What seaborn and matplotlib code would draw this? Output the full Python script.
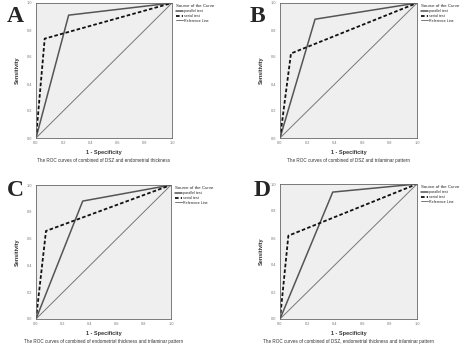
import matplotlib
matplotlib.use("Agg")
import matplotlib.pyplot as plt
import seaborn as sns
import pandas as pd

sns.set_style("white")
plt.rcParams['font.family'] = ['Liberation Sans', 'DejaVu Sans']

panel_letters = ["A", "B", "C", "D"]
captions = [
    "The ROC curves of combined of DSZ and endometrial thickness",
    "The ROC curves of combined of DSZ and trilaminar pattern",
    "The ROC curves of combined of endometrial thickness and trilaminar pattern",
    "The ROC curves of combined of DSZ, endometrial thickness and trilaminar pattern",
]
# parallel test: (fpr, tpr) points
parallel_x = [[0.0, 0.24, 1.0], [0.0, 0.256, 1.0], [0.0, 0.346, 1.0], [0.0, 0.385, 1.0]]
parallel_y = [[0.0, 0.91, 1.0], [0.0, 0.88, 1.0], [0.0, 0.88, 1.0], [0.0, 0.94, 1.0]]
# serial test
serial_x = [[0.0, 0.064, 1.0], [0.0, 0.08, 1.0], [0.0, 0.074, 1.0], [0.0, 0.061, 1.0]]
serial_y = [[0.0, 0.736, 1.0], [0.0, 0.626, 1.0], [0.0, 0.657, 1.0], [0.0, 0.617, 1.0]]
ref_x = [0.0, 1.0]
ref_y = [0.0, 1.0]
ticks = [0.0, 0.2, 0.4, 0.6, 0.8, 1.0]
legend_labels = ["parallel test", "serial test", "Reference Line"]

fig = plt.figure(figsize=(4.74, 3.48), dpi=100)
W, H = 474, 348
# axes boxes in pixels: (left, top, right, bottom)
boxes = [(36, 3, 172, 138), (280, 3, 417, 138), (36, 185, 171, 319), (280, 184, 417, 319)]
letter_pos = [(15, 17), (257, 17), (15, 190), (262, 190)]

for i in range(4):
    l, t, r, b = boxes[i]
    ax = fig.add_axes([l / W, (H - b) / H, (r - l) / W, (b - t) / H])
    ax.set_facecolor("#efefef")
    dfp = pd.DataFrame({"x": parallel_x[i], "y": parallel_y[i]})
    dfs = pd.DataFrame({"x": serial_x[i], "y": serial_y[i]})
    dfr = pd.DataFrame({"x": ref_x, "y": ref_y})
    sns.lineplot(data=dfp, x="x", y="y", ax=ax, color="#555555", lw=1.1, sort=False,
                 estimator=None, label=legend_labels[0])
    sns.lineplot(data=dfs, x="x", y="y", ax=ax, color="#111111", lw=1.3, sort=False,
                 estimator=None, label=legend_labels[1], dashes=False)
    ax.lines[-1].set_dashes([2.0, 1.2])
    sns.lineplot(data=dfr, x="x", y="y", ax=ax, color="#777777", lw=0.7, sort=False,
                 estimator=None, label=legend_labels[2])
    ax.set_xlim(0, 1)
    ax.set_ylim(0, 1)
    ax.set_xticks(ticks)
    ax.set_yticks(ticks)
    ax.set_xticklabels([f"{v:.1f}" for v in ticks], fontsize=2.8, color="#555555")
    ax.set_yticklabels([f"{v:.1f}" for v in ticks], fontsize=2.8, color="#555555")
    ax.tick_params(length=1.5, width=0.4, pad=1, colors="#777777")
    for s in ax.spines.values():
        s.set_linewidth(0.6)
        s.set_color("#666666")
    ax.set_xlabel("1 - Specificity", fontsize=4, fontweight="bold", labelpad=3, color="#333333")
    ax.set_ylabel("Sensitivity", fontsize=4, fontweight="bold", labelpad=5, color="#333333")
    leg = ax.legend(loc="upper left", bbox_to_anchor=(1.02, 1.0), frameon=False,
                    title="Source of the Curve", fontsize=2.6, title_fontsize=3.2,
                    handlelength=2.0, handletextpad=0.3, labelspacing=0.2, borderaxespad=0)
    leg._legend_box.align = "left"
    ax.text(0.5, -22.5 / (b - t), captions[i], transform=ax.transAxes, ha="center",
            va="center", fontsize=3.3, color="#333333")
    lx, ly = letter_pos[i]
    fig.text(lx / W, (H - ly) / H, panel_letters[i], ha="center", va="center",
             fontsize=17, fontweight="bold", family=["Liberation Serif", "DejaVu Serif"])

fig.savefig("out.png", dpi=100)
